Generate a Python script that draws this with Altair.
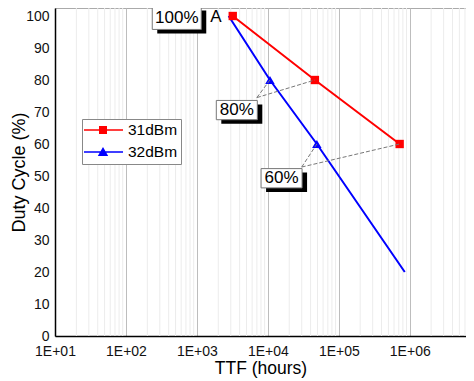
import altair as alt
import pandas as pd

# Series data
s31_ttf = [3200, 46000, 720000]
s31_duty = [100, 80, 60]
s32_ttf = [2800, 10700, 49000, 850000]
s32_duty = [100, 80, 60, 20]
s32_marker_ttf = [10700, 49000]
s32_marker_duty = [80, 60]

series_names = ["31dBm", "32dBm"]
series_colors = ["#ff0000", "#0000ff"]

# annotation labels
ann_text = ["100%", "80%", "60%"]
ann_ttf = [520, 3650, 15600]
ann_duty = [99.4, 70.6, 49.3]
ann_box_w = [49, 41, 41]

# leader lines (from box corner to points)
lead_id = ["a", "a", "b", "b", "c", "c", "d", "d"]
lead_ttf = [7000, 10700, 7000, 46000, 30000, 49000, 30000, 720000]
lead_duty = [74.5, 80, 74.5, 80, 52.8, 60, 52.8, 60]

letter_text = ["A"]
letter_ttf = [1850]
letter_duty = [99.6]

major_ticks = [10, 100, 1000, 10000, 100000, 1000000]
minor_ticks = [k * 10 ** d for d in range(1, 7) for k in range(2, 10)]

XDOM = [10, 6.2e6]
YDOM = [0, 102.5]

lines_df = pd.DataFrame(
    {"ttf": s31_ttf + s32_ttf,
     "duty": s31_duty + s32_duty,
     "series": ["31dBm"] * len(s31_ttf) + ["32dBm"] * len(s32_ttf)}
)
pts_df = pd.DataFrame(
    {"ttf": s31_ttf + s32_marker_ttf,
     "duty": s31_duty + s32_marker_duty,
     "series": ["31dBm"] * len(s31_ttf) + ["32dBm"] * len(s32_marker_ttf)}
)
ann_df = pd.DataFrame({"text": ann_text, "ttf": ann_ttf, "duty": ann_duty, "w": ann_box_w})
lead_df = pd.DataFrame({"id": lead_id, "ttf": lead_ttf, "duty": lead_duty})
letter_df = pd.DataFrame({"text": letter_text, "ttf": letter_ttf, "duty": letter_duty})
minor_df = pd.DataFrame({"ttf": minor_ticks})
legend_df = pd.DataFrame({"series": series_names, "ttf": [10, 10], "duty": [0, 0]})

xscale = alt.Scale(type="log", domain=XDOM)
yscale = alt.Scale(domain=YDOM)
cscale = alt.Scale(domain=series_names, range=series_colors)

x_axis = alt.Axis(
    values=major_ticks,
    labelExpr="'1E+0' + round(log(datum.value) / LN10)",
    grid=True, gridColor="#bdbdbd", gridWidth=1,
    title="TTF (hours)", ticks=False, labelPadding=8, titlePadding=1,
    labelFontSize=14, titleFontSize=17.5, labelFlush=False,
    domainColor="#000", domainWidth=1.5,
)
y_axis = alt.Axis(
    values=list(range(0, 101, 10)), grid=False, title="Duty Cycle (%)",
    ticks=False, labelPadding=6, domainColor="#000", domainWidth=1.5,
    labelFontSize=14, titleFontSize=18,
    titleX=-27, titleY=164, titleAngle=270, titleAlign="center", titleBaseline="bottom",
)

base_x = alt.X("ttf:Q", scale=xscale, axis=x_axis)
base_y = alt.Y("duty:Q", scale=yscale, axis=y_axis)

minor = alt.Chart(minor_df).mark_rule(color="#ececec", strokeWidth=1).encode(
    x=alt.X("ttf:Q", scale=xscale, axis=x_axis)
)

lines = alt.Chart(lines_df).mark_line(strokeWidth=2).encode(
    x=base_x, y=base_y,
    color=alt.Color("series:N", scale=cscale, legend=None),
)

points_sq = alt.Chart(pts_df[pts_df.series == "31dBm"]).mark_point(
    shape="square", filled=True, size=70, opacity=1, color="#ff0000"
).encode(x=base_x, y=base_y)
points_tri = alt.Chart(pts_df[pts_df.series == "32dBm"]).mark_point(
    shape="triangle-up", filled=True, size=90, opacity=1, color="#0000ff"
).encode(x=base_x, y=base_y)

# legend symbols: line with marker (units of 8px, symbol box is -1..1)
leg_shapes = [
    "M-1.125,-0.1L3.75,-0.1L3.75,0.1L-1.125,0.1Z M0.75,-0.5L1.75,-0.5L1.75,0.5L0.75,0.5Z",
    "M-1.125,-0.1L3.75,-0.1L3.75,0.1L-1.125,0.1Z M1.25,-0.62L1.9,0.5L0.6,0.5Z",
]
leg_props = dict(title=None, orient="none", legendX=27, legendY=111,
                 symbolSize=256, symbolOpacity=1, symbolStrokeWidth=0,
                 labelFontSize=15.5, labelFont="Liberation Sans", labelColor="#000",
                 strokeColor="#888", fillColor="#fff", padding=3,
                 rowPadding=5, labelOffset=27)
legend_layer = alt.Chart(legend_df).mark_point(filled=True, opacity=0).encode(
    x=base_x, y=base_y,
    shape=alt.Shape("series:N", scale=alt.Scale(domain=series_names, range=leg_shapes),
                    legend=alt.Legend(**leg_props)),
    fill=alt.Fill("series:N", scale=alt.Scale(domain=series_names, range=series_colors),
                  legend=alt.Legend(**leg_props)),
)

leaders = alt.Chart(lead_df).mark_line(color="#777", strokeWidth=1, strokeDash=[4, 2]).encode(
    x=base_x, y=base_y, detail="id:N"
)

box_path = "M-1,-0.47L1,-0.47L1,0.47L-1,0.47Z"
shadows = []
boxes = []
for i in range(len(ann_text)):
    sub = ann_df.iloc[[i]]
    w = ann_box_w[i]
    shadows.append(alt.Chart(sub).mark_point(
        shape=box_path, filled=True, color="#000", size=w * w, opacity=1,
        xOffset=5, yOffset=4).encode(x=base_x, y=base_y))
    boxes.append(alt.Chart(sub).mark_point(
        shape=box_path, filled=True, fill="#fff", stroke="#777", strokeWidth=1,
        size=w * w, opacity=1).encode(x=base_x, y=base_y))
texts = alt.Chart(ann_df).mark_text(
    fontSize=17, font="Liberation Sans", color="#000").encode(x=base_x, y=base_y, text="text:N")

letter = alt.Chart(letter_df).mark_text(
    fontSize=17, font="Liberation Sans", color="#000").encode(x=base_x, y=base_y, text="text:N")

chart = alt.layer(
    minor, lines, points_sq, points_tri, leaders, *shadows, *boxes, texts, letter, legend_layer
).resolve_scale(fill="independent", shape="independent").properties(
    width=411, height=328,
    autosize=alt.AutoSizeParams(type="none"),
    padding={"left": 47, "top": 0, "right": 0, "bottom": 45},
).configure_view(stroke="#aaa", strokeWidth=1).configure_axis(
    labelFont="Liberation Sans", titleFont="Liberation Sans",
    labelColor="#111", titleColor="#000",
    titleFontWeight="normal",
)

chart.save("out.html", embed_options={"renderer": "svg", "actions": False})
